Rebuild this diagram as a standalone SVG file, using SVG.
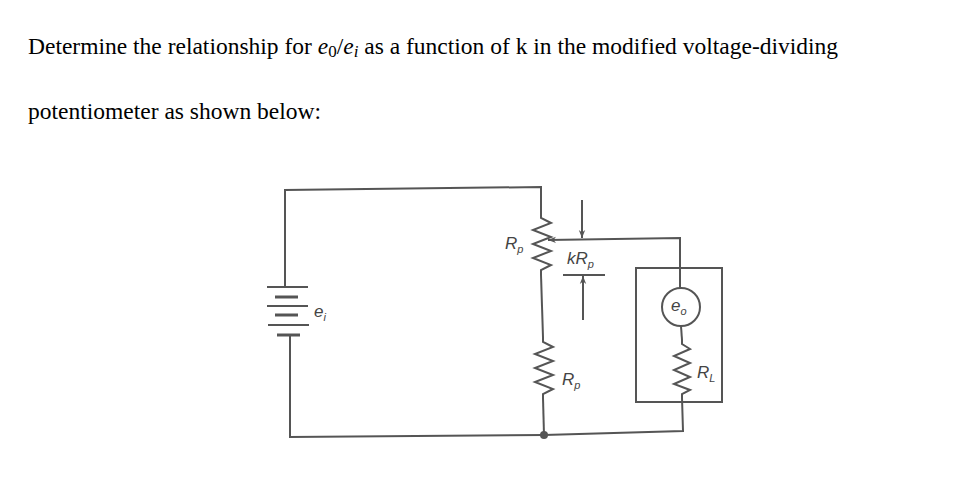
<svg xmlns="http://www.w3.org/2000/svg" width="954" height="504" viewBox="0 0 954 504">
<defs>
<style>
.w{fill:none;stroke:#555;stroke-width:2;stroke-linejoin:miter}
.t{font-family:"Liberation Serif",serif;font-size:23.5px;fill:#000}
.l{font-family:"Liberation Sans",sans-serif;font-style:italic;font-size:17px;fill:#444}
.s{font-size:11px}
</style>
<marker id="ah" viewBox="0 0 10 10" refX="10" refY="5" markerWidth="8" markerHeight="8" orient="auto" markerUnits="userSpaceOnUse"><path d="M0,1 L10,5 L0,9 L3,5 Z" fill="#555"/></marker>
</defs>
<rect width="954" height="504" fill="#fff"/>
<text class="t" x="28" y="54">Determine the relationship for <tspan font-style="italic">e</tspan><tspan font-size="17" dy="3">0</tspan><tspan dy="-3">/</tspan><tspan font-style="italic">e</tspan><tspan font-size="17" font-style="italic" dy="3">i</tspan><tspan dy="-3"> as a function of k in the modified voltage-dividing</tspan></text>
<text class="t" x="28" y="119">potentiometer as shown below:</text>
<g id="battery" class="w">
<line x1="267" y1="287" x2="308" y2="287"/><line x1="275" y1="297" x2="298" y2="297" stroke-width="3"/>
<line x1="267" y1="306" x2="308" y2="306"/><line x1="275" y1="315" x2="298" y2="315" stroke-width="3"/>
<line x1="268" y1="325" x2="309" y2="325"/><line x1="277" y1="335" x2="300" y2="335" stroke-width="3"/>
</g>
<g id="pot" class="w">
<polyline points="541,213 541,218 551,223 533,230 551,237 533,244 551,251 533,258 551,265 541,270 541,275"/>
</g>
<g id="rp" class="w">
<polyline points="543,337 543,342 553,347 535,354 553,361 535,368 553,375 535,382 553,389 543,394 543,398"/>
</g>
<g id="meter">
<circle cx="681" cy="307" r="19" fill="#fff" stroke="#555" stroke-width="2"/>
<text class="l" x="671" y="311" font-size="15">e<tspan class="s" dy="4">o</tspan></text>
</g>
<g id="rl" class="w">
<polyline points="682,340 682,344 690,349 674,356 690,363 674,370 690,377 674,384 690,390 682,394 682,398"/>
</g>
<g id="connectors" class="w">
<polyline points="285,287 285,190 541,187 541,213"/>
<line x1="541" y1="275" x2="543" y2="337"/>
<polyline points="290,335 290,437 544,435 683,431 682,398"/>
<line x1="543" y1="398" x2="544" y2="435"/>
<polyline points="680,288 680,238 548,240" marker-end="url(#ah)"/>
<line x1="681" y1="326" x2="682" y2="340"/>
<rect x="636" y="268" width="86" height="134"/>
<line x1="582" y1="200" x2="582" y2="238" marker-end="url(#ah)"/>
<line x1="563" y1="275" x2="605" y2="275"/>
<line x1="583" y1="320" x2="583" y2="276" marker-end="url(#ah)"/>
<circle cx="544" cy="435" r="4" fill="#555" stroke="none"/>
</g>
<g id="labels">
<text class="l" x="505" y="249">R<tspan class="s" dy="4">p</tspan></text>
<text class="l" x="567" y="264">kR<tspan class="s" dy="4">p</tspan></text>
<text class="l" x="562" y="385">R<tspan class="s" dy="4">p</tspan></text>
<text class="l" x="314" y="317">e<tspan class="s" dy="4">i</tspan></text>
<text class="l" x="697" y="378">R<tspan class="s" dy="4">L</tspan></text>
</g>
</svg>
